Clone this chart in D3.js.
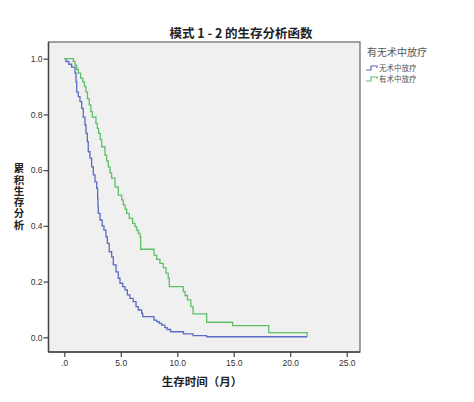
<!DOCTYPE html>
<html><head><meta charset="utf-8">
<script src="https://cdn.jsdelivr.net/npm/d3@7"></script>
<style>body{margin:0;background:#fff;}svg{display:block;}</style>
</head><body>
<svg id="c" width="474" height="402"></svg>
<script>
const title = "模式 1 - 2 的生存分析函数";
const xLabel = "生存时间（月）";
const yLabel = "累积生存分析";
const legendTitle = "有无术中放疗";
const seriesNames = ["无术中放疗", "有术中放疗"];
const xTicks = [0, 5, 10, 15, 20, 25];
const xTickLabels = [".0", "5.0", "10.0", "15.0", "20.0", "25.0"];
const yTicks = [0, 0.2, 0.4, 0.6, 0.8, 1.0];
const yTickLabels = ["0.0", "0.2", "0.4", "0.6", "0.8", "1.0"];

// event times and survival after each event
const noTimes = [0.15,0.4,0.65,0.95,1.04,1.1,1.24,1.39,1.54,1.68,1.83,1.92,2.04,2.12,2.27,2.42,2.57,2.72,2.87,2.95,2.98,3.01,3.16,3.35,3.51,3.69,3.81,3.98,4.19,4.34,4.58,4.78,4.93,5.17,5.37,5.58,5.81,6.1,6.35,6.55,6.85,6.94,7.94,8.18,8.4,8.62,8.9,9.1,9.4,10.55,11.4,12.6];
const noSurv  = [0.99,0.98,0.97,0.948,0.917,0.88,0.864,0.846,0.822,0.79,0.762,0.732,0.702,0.666,0.643,0.612,0.583,0.558,0.535,0.50,0.47,0.445,0.421,0.40,0.385,0.361,0.337,0.307,0.289,0.26,0.235,0.212,0.194,0.182,0.17,0.152,0.14,0.128,0.11,0.098,0.086,0.074,0.062,0.056,0.05,0.044,0.035,0.028,0.02,0.012,0.006,0.002];
const noEnd = 21.5;

const yesTimes = [0.8,0.95,1.1,1.24,1.45,1.63,1.78,1.92,2.05,2.21,2.35,2.48,2.8,2.92,3.04,3.18,3.31,3.6,3.75,3.9,4.05,4.19,4.49,4.78,5.08,5.22,5.38,5.52,5.75,6.05,6.25,6.4,6.55,6.7,6.76,7.94,8.18,8.47,8.76,9.0,9.2,9.29,10.53,10.7,10.9,11.2,11.4,12.6,14.9,18.1,21.5];
const yesSurv  = [0.99,0.977,0.962,0.948,0.93,0.917,0.9,0.88,0.857,0.834,0.81,0.79,0.768,0.75,0.732,0.71,0.684,0.654,0.633,0.612,0.59,0.571,0.54,0.51,0.493,0.475,0.46,0.445,0.427,0.409,0.397,0.385,0.373,0.361,0.316,0.295,0.28,0.265,0.25,0.23,0.212,0.182,0.164,0.15,0.134,0.11,0.084,0.054,0.042,0.017,0.002];
const yesEnd = 21.5;

const colors = ["#5a6cc2", "#5fbf68"];

const svg = d3.select("#c");
const frame = {l: 48.5, t: 42, r: 360, b: 352};
const x = d3.scaleLinear().domain([0, 25]).range([64.3, 346.7]);
const y = d3.scaleLinear().domain([0, 1]).range([337.3, 58.7]);

svg.append("rect").attr("x", frame.l).attr("y", frame.t)
  .attr("width", frame.r - frame.l).attr("height", frame.b - frame.t)
  .attr("fill", "#f0f0f0").attr("stroke", "#666").attr("stroke-width", 1.2);

// axes
const xAxis = d3.axisBottom(x).tickValues(xTicks).tickSize(5).tickPadding(3)
  .tickFormat((d, i) => xTickLabels[i]);
const gx = svg.append("g").attr("transform", `translate(0,${frame.b})`).call(xAxis);
gx.select(".domain").attr("d", `M${frame.l},0H${frame.r}`).attr("stroke", "#444").attr("stroke-width", 1.4);
const yAxis = d3.axisLeft(y).tickValues(yTicks).tickSize(5).tickPadding(1)
  .tickFormat((d, i) => yTickLabels[i]);
const gy = svg.append("g").attr("transform", `translate(${frame.l},0)`).call(yAxis);
gy.select(".domain").attr("d", `M0,${frame.t}V${frame.b}`).attr("stroke", "#444").attr("stroke-width", 1.4);
[gx, gy].forEach(g => {
  g.selectAll(".tick line").attr("stroke", "#444").attr("stroke-width", 1.2);
  g.selectAll(".tick text").attr("fill", "#333").attr("font-size", 8.5)
    .attr("font-family", "Liberation Sans, Arial, sans-serif");
});

// curves
function stepPoints(times, surv, end) {
  const pts = [[0, 1]];
  let s = 1;
  times.forEach((t, i) => { pts.push([t, s]); s = surv[i]; pts.push([t, s]); });
  if (end > times[times.length - 1]) pts.push([end, s]);
  return pts;
}
const line = d3.line().x(d => x(d[0])).y(d => y(d[1]));
const data = [stepPoints(noTimes, noSurv, noEnd), stepPoints(yesTimes, yesSurv, yesEnd)];
svg.append("g").selectAll("path").data(data).join("path")
  .attr("d", line).attr("fill", "none")
  .attr("stroke", (d, i) => colors[i]).attr("stroke-width", 1.3);

// title
svg.append("text").attr("x", 241).attr("y", 37.5).attr("text-anchor", "middle")
  .attr("font-family", "Noto Sans CJK SC, sans-serif").attr("font-weight", "bold")
  .attr("font-size", 12.5).attr("fill", "#222").text(title);

// x label
svg.append("text").attr("x", 202).attr("y", 386).attr("text-anchor", "middle")
  .attr("font-family", "Noto Sans CJK SC, sans-serif").attr("font-weight", "bold")
  .attr("font-size", 11.5).attr("fill", "#222").text(xLabel);

// y label, vertical writing
svg.append("text").attr("x", 19).attr("y", 163)
  .attr("style", "writing-mode: vertical-rl; text-orientation: upright;")
  .attr("font-family", "Noto Sans CJK SC, sans-serif").attr("font-weight", "bold")
  .attr("font-size", 10.5).attr("letter-spacing", 0.8).attr("fill", "#222").text(yLabel);

// legend
svg.append("text").attr("x", 367).attr("y", 56).attr("font-family", "Noto Sans CJK SC, sans-serif")
  .attr("font-size", 10).attr("fill", "#555").text(legendTitle);
const lg = svg.append("g").selectAll("g").data(seriesNames).join("g")
  .attr("transform", (d, i) => `translate(366,${68 + i * 11})`);
lg.append("path").attr("d", "M0,2H5V-2H11V0").attr("fill", "none")
  .attr("stroke", (d, i) => colors[i]).attr("stroke-width", 1.2);
lg.append("text").attr("x", 13).attr("y", 3).attr("font-family", "Noto Sans CJK SC, sans-serif")
  .attr("font-size", 7.5).attr("fill", "#555").text(d => d);
</script>
</body></html>
